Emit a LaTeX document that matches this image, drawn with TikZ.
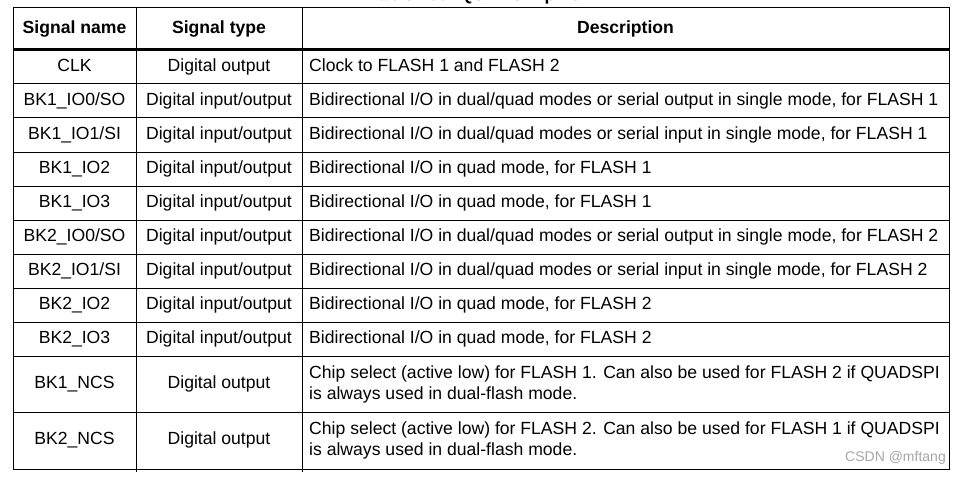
\documentclass[tikz,border=0pt]{standalone}
\usepackage{fontspec}
\setmainfont{Liberation Sans}
\begin{document}
\begin{tikzpicture}[x=1pt,y=-1pt,
  cell/.style={inner sep=0pt,text height=13pt,text depth=4pt,font=\fontsize{17.6}{21}\selectfont,anchor=center},
  desc/.style={inner sep=0pt,font=\fontsize{17.6}{21}\selectfont,anchor=west,align=left},
  hdr/.style={inner sep=0pt,text height=13pt,text depth=4pt,font=\fontsize{17.6}{21}\selectfont\bfseries,anchor=center},
  grid/.style={line width=1pt,black},
  thick rule/.style={line width=3pt,black}]
\useasboundingbox (0,0) rectangle (960,476);
\begin{scope}
\clip (0,0) rectangle (960,476);
\node[hdr] (title) at (475,-4) {Table 108. QUADSPI pins};
\end{scope}
% grid
\draw[grid] (13,8) rectangle (949,469);
\draw[grid] (136,8) -- (136,472);
\draw[grid] (302,8) -- (302,472);
\draw[thick rule] (13,50) -- (949,50);
\foreach \y in {84,118,152,186,220,254,288,322,356,412}
  \draw[grid] (13,\y) -- (949,\y);
% header
\node[hdr] (h1) at (74.5,29) {Signal name};
\node[hdr] (h2) at (219,29) {Signal type};
\node[hdr] (h3) at (625.5,29) {Description};
% rows
\foreach \n/\t/\d/\y in {
  CLK/Digital output/Clock to FLASH 1 and FLASH 2/67,
  BK1\_IO0\slash SO/Digital input\slash output/Bidirectional I\slash O in dual\slash quad modes or serial output in single mode{,} for FLASH 1/101,
  BK1\_IO1\slash SI/Digital input\slash output/Bidirectional I\slash O in dual\slash quad modes or serial input in single mode{,} for FLASH 1/135,
  BK1\_IO2/Digital input\slash output/Bidirectional I\slash O in quad mode{,} for FLASH 1/169,
  BK1\_IO3/Digital input\slash output/Bidirectional I\slash O in quad mode{,} for FLASH 1/203,
  BK2\_IO0\slash SO/Digital input\slash output/Bidirectional I\slash O in dual\slash quad modes or serial output in single mode{,} for FLASH 2/237,
  BK2\_IO1\slash SI/Digital input\slash output/Bidirectional I\slash O in dual\slash quad modes or serial input in single mode{,} for FLASH 2/271,
  BK2\_IO2/Digital input\slash output/Bidirectional I\slash O in quad mode{,} for FLASH 2/305,
  BK2\_IO3/Digital input\slash output/Bidirectional I\slash O in quad mode{,} for FLASH 2/339}
{
  \node[cell] (n\y) at (74.5,\y) {\n};
  \node[cell] (t\y) at (219,\y) {\t};
  \node[cell,anchor=west] (d\y) at (309,\y) {\d};
}
\node[cell] (n384) at (74.5,384) {BK1\_NCS};
\node[cell] (t384) at (219,384) {Digital output};
\node[desc] (d384) at (309,384) {Chip select (active low) for FLASH 1. Can also be used for FLASH 2 if QUADSPI\\is always used in dual-flash mode.};
\node[cell] (n440) at (74.5,440) {BK2\_NCS};
\node[cell] (t440) at (219,440) {Digital output};
\node[desc] (d440) at (309,440) {Chip select (active low) for FLASH 2. Can also be used for FLASH 1 if QUADSPI\\is always used in dual-flash mode.};
\node[inner sep=0pt,anchor=east,text=black!35,font=\fontsize{14}{16}\selectfont] (wm) at (946,458) {CSDN @mftang};
\end{tikzpicture}
\end{document}
